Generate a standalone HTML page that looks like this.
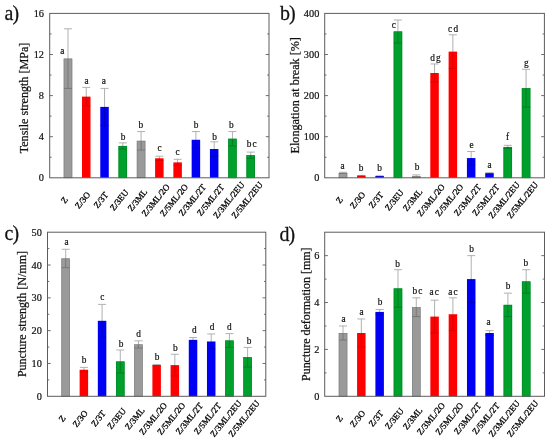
<!DOCTYPE html>
<html lang="en">
<head>
<meta charset="utf-8">
<title>Figure</title>
<style>
html,body{margin:0;padding:0;background:#fff;}
body{width:550px;height:443px;overflow:hidden;}
svg{display:block;filter:blur(0.35px);}
text{font-family:"Liberation Serif","Times New Roman",serif;fill:#111;}
.tk{font-size:10.3px;stroke:#111;stroke-width:0.2px;}
.xl{font-size:8.8px;fill:#000;stroke:#000;stroke-width:0.28px;}
.lt{font-size:9.3px;word-spacing:-1.1px;stroke:#111;stroke-width:0.2px;}
.yl{stroke:#111;stroke-width:0.22px;}
.tg{font-size:21px;fill:#111;letter-spacing:-1px;stroke:#111;stroke-width:0.25px;}
</style>
</head>
<body>
<svg width="550" height="443" viewBox="0 0 550 443">
<rect x="0" y="0" width="550" height="443" fill="#ffffff"/>
<g>
<rect x="63.73" y="58.61" width="8.5" height="119.19" fill="#9a9a9a"/>
<rect x="64.03" y="58.91" width="7.9" height="118.89" fill="none" stroke="#7d7d7d" stroke-width="0.6"/>
<rect x="82.00" y="96.63" width="8.5" height="81.17" fill="#ff0000"/>
<rect x="100.28" y="106.90" width="8.5" height="70.90" fill="#0000f5"/>
<rect x="118.55" y="145.95" width="8.5" height="31.85" fill="#00a02c"/>
<rect x="118.85" y="146.25" width="7.9" height="31.55" fill="none" stroke="#008524" stroke-width="0.6"/>
<rect x="136.83" y="140.81" width="8.5" height="36.99" fill="#9a9a9a"/>
<rect x="137.13" y="141.11" width="7.9" height="36.69" fill="none" stroke="#7d7d7d" stroke-width="0.6"/>
<rect x="155.10" y="158.28" width="8.5" height="19.52" fill="#ff0000"/>
<rect x="173.38" y="162.39" width="8.5" height="15.41" fill="#ff0000"/>
<rect x="191.65" y="139.78" width="8.5" height="38.02" fill="#0000f5"/>
<rect x="209.93" y="149.03" width="8.5" height="28.77" fill="#0000f5"/>
<rect x="228.20" y="138.75" width="8.5" height="39.05" fill="#00a02c"/>
<rect x="228.50" y="139.06" width="7.9" height="38.75" fill="none" stroke="#008524" stroke-width="0.6"/>
<rect x="246.48" y="155.19" width="8.5" height="22.61" fill="#00a02c"/>
<rect x="246.78" y="155.50" width="7.9" height="22.31" fill="none" stroke="#008524" stroke-width="0.6"/>
<path d="M67.98 28.81V58.61M63.98 28.81H71.98" fill="none" stroke="#a8a8a8" stroke-width="0.9"/>
<path d="M67.98 58.61V88.41M63.98 88.41H71.98" fill="none" stroke="#747474" stroke-width="0.9"/>
<path d="M86.25 87.38V96.63M82.25 87.38H90.25" fill="none" stroke="#a8a8a8" stroke-width="0.9"/>
<path d="M86.25 96.63V105.88M82.25 105.88H90.25" fill="none" stroke="#d80000" stroke-width="0.9"/>
<path d="M104.53 88.41V106.90M100.53 88.41H108.53" fill="none" stroke="#a8a8a8" stroke-width="0.9"/>
<path d="M104.53 106.90V125.40M100.53 125.40H108.53" fill="none" stroke="#0000c4" stroke-width="0.9"/>
<path d="M122.80 142.87V145.95M118.80 142.87H126.80" fill="none" stroke="#a8a8a8" stroke-width="0.9"/>
<path d="M122.80 145.95V149.03M118.80 149.03H126.80" fill="none" stroke="#007a22" stroke-width="0.9"/>
<path d="M141.08 131.56V140.81M137.08 131.56H145.08" fill="none" stroke="#a8a8a8" stroke-width="0.9"/>
<path d="M141.08 140.81V150.06M137.08 150.06H145.08" fill="none" stroke="#747474" stroke-width="0.9"/>
<path d="M159.35 156.22V158.28M155.35 156.22H163.35" fill="none" stroke="#a8a8a8" stroke-width="0.9"/>
<path d="M159.35 158.28V160.33M155.35 160.33H163.35" fill="none" stroke="#d80000" stroke-width="0.9"/>
<path d="M177.62 159.31V162.39M173.62 159.31H181.62" fill="none" stroke="#a8a8a8" stroke-width="0.9"/>
<path d="M177.62 162.39V165.47M173.62 165.47H181.62" fill="none" stroke="#d80000" stroke-width="0.9"/>
<path d="M195.90 131.56V139.78M191.90 131.56H199.90" fill="none" stroke="#a8a8a8" stroke-width="0.9"/>
<path d="M195.90 139.78V148.00M191.90 148.00H199.90" fill="none" stroke="#0000c4" stroke-width="0.9"/>
<path d="M214.18 141.84V149.03M210.18 141.84H218.18" fill="none" stroke="#a8a8a8" stroke-width="0.9"/>
<path d="M214.18 149.03V156.22M210.18 156.22H218.18" fill="none" stroke="#0000c4" stroke-width="0.9"/>
<path d="M232.45 131.56V138.75M228.45 131.56H236.45" fill="none" stroke="#a8a8a8" stroke-width="0.9"/>
<path d="M232.45 138.75V145.95M228.45 145.95H236.45" fill="none" stroke="#007a22" stroke-width="0.9"/>
<path d="M250.73 152.11V155.19M246.73 152.11H254.73" fill="none" stroke="#a8a8a8" stroke-width="0.9"/>
<path d="M250.73 155.19V158.28M246.73 158.28H254.73" fill="none" stroke="#007a22" stroke-width="0.9"/>
<rect x="49.7" y="13.4" width="219.30" height="164.40" fill="none" stroke="#5c5c5c" stroke-width="1"/>
<text x="44.0" y="181.30" text-anchor="end" class="tk">0</text>
<text x="44.0" y="140.20" text-anchor="end" class="tk">4</text>
<text x="44.0" y="99.10" text-anchor="end" class="tk">8</text>
<text x="44.0" y="58.00" text-anchor="end" class="tk">12</text>
<text x="44.0" y="16.90" text-anchor="end" class="tk">16</text>
<path d="M49.7 157.25h1.8M269.0 157.25h-1.8M49.7 136.70h3.2M269.0 136.70h-3.2M49.7 116.15h1.8M269.0 116.15h-1.8M49.7 95.60h3.2M269.0 95.60h-3.2M49.7 75.05h1.8M269.0 75.05h-1.8M49.7 54.50h3.2M269.0 54.50h-3.2M49.7 33.95h1.8M269.0 33.95h-1.8" fill="none" stroke="#5c5c5c" stroke-width="0.9"/>
<text transform="translate(64.28 200.10) rotate(-51)" text-anchor="middle" y="3" class="xl">Z</text>
<text transform="translate(82.55 200.10) rotate(-51)" text-anchor="middle" y="3" class="xl">Z/3O</text>
<text transform="translate(100.83 200.10) rotate(-51)" text-anchor="middle" y="3" class="xl">Z/3T</text>
<text transform="translate(119.10 200.10) rotate(-51)" text-anchor="middle" y="3" class="xl">Z/3EU</text>
<text transform="translate(137.38 200.10) rotate(-51)" text-anchor="middle" y="3" class="xl">Z/3ML</text>
<text transform="translate(155.65 200.10) rotate(-51)" text-anchor="middle" y="3" class="xl">Z/3ML/2O</text>
<text transform="translate(173.93 200.10) rotate(-51)" text-anchor="middle" y="3" class="xl">Z/5ML/2O</text>
<text transform="translate(192.20 200.10) rotate(-51)" text-anchor="middle" y="3" class="xl">Z/3ML/2T</text>
<text transform="translate(210.48 200.10) rotate(-51)" text-anchor="middle" y="3" class="xl">Z/5ML/2T</text>
<text transform="translate(228.75 200.10) rotate(-51)" text-anchor="middle" y="3" class="xl">Z/3ML/2EU</text>
<text transform="translate(247.03 200.10) rotate(-51)" text-anchor="middle" y="3" class="xl">Z/5ML/2EU</text>
<text x="62.2" y="53.9" text-anchor="middle" class="lt">a</text>
<text x="86.5" y="83.5" text-anchor="middle" class="lt">a</text>
<text x="103.8" y="83.5" text-anchor="middle" class="lt">a</text>
<text x="123.1" y="139.6" text-anchor="middle" class="lt">b</text>
<text x="140.8" y="127.6" text-anchor="middle" class="lt">b</text>
<text x="159.5" y="150.5" text-anchor="middle" class="lt">c</text>
<text x="177.6" y="155.3" text-anchor="middle" class="lt">c</text>
<text x="196" y="127.8" text-anchor="middle" class="lt">b</text>
<text x="214.5" y="139.7" text-anchor="middle" class="lt">b</text>
<text x="231.3" y="127.8" text-anchor="middle" class="lt">b</text>
<text x="251.7" y="146.8" text-anchor="middle" class="lt">b c</text>
<text transform="translate(28.3 98.0) rotate(-90)" text-anchor="middle" class="yl" font-size="12.1">Tensile strength [MPa]</text>
<text transform="translate(4.5 19.8) scale(0.95 1)" class="tg">a)</text>
</g>
<g>
<rect x="338.76" y="172.87" width="8.5" height="4.93" fill="#9a9a9a"/>
<rect x="339.06" y="173.17" width="7.9" height="4.63" fill="none" stroke="#7d7d7d" stroke-width="0.6"/>
<rect x="357.07" y="175.75" width="8.5" height="2.06" fill="#ff0000"/>
<rect x="375.38" y="176.16" width="8.5" height="1.64" fill="#0000f5"/>
<rect x="393.68" y="31.48" width="8.5" height="146.32" fill="#00a02c"/>
<rect x="393.98" y="31.78" width="7.9" height="146.02" fill="none" stroke="#008524" stroke-width="0.6"/>
<rect x="411.99" y="176.16" width="8.5" height="1.64" fill="#9a9a9a"/>
<rect x="412.29" y="176.46" width="7.9" height="1.34" fill="none" stroke="#7d7d7d" stroke-width="0.6"/>
<rect x="430.30" y="73.00" width="8.5" height="104.81" fill="#ff0000"/>
<rect x="448.61" y="51.62" width="8.5" height="126.18" fill="#ff0000"/>
<rect x="466.92" y="158.07" width="8.5" height="19.73" fill="#0000f5"/>
<rect x="485.23" y="173.28" width="8.5" height="4.52" fill="#0000f5"/>
<rect x="503.53" y="146.98" width="8.5" height="30.82" fill="#00a02c"/>
<rect x="503.83" y="147.28" width="7.9" height="30.52" fill="none" stroke="#008524" stroke-width="0.6"/>
<rect x="521.84" y="88.20" width="8.5" height="89.60" fill="#00a02c"/>
<rect x="522.14" y="88.50" width="7.9" height="89.30" fill="none" stroke="#008524" stroke-width="0.6"/>
<path d="M343.01 172.25V172.87M339.01 172.25H347.01" fill="none" stroke="#a8a8a8" stroke-width="0.9"/>
<path d="M343.01 172.87V173.48M339.01 173.48H347.01" fill="none" stroke="#747474" stroke-width="0.9"/>
<path d="M361.32 175.42V175.75M357.32 175.42H365.32" fill="none" stroke="#a8a8a8" stroke-width="0.9"/>
<path d="M361.32 175.75V176.07M357.32 176.07H365.32" fill="none" stroke="#d80000" stroke-width="0.9"/>
<path d="M379.62 175.83V176.16M375.62 175.83H383.62" fill="none" stroke="#a8a8a8" stroke-width="0.9"/>
<path d="M379.62 176.16V176.48M375.62 176.48H383.62" fill="none" stroke="#0000c4" stroke-width="0.9"/>
<path d="M397.93 19.98V31.48M393.93 19.98H401.93" fill="none" stroke="#a8a8a8" stroke-width="0.9"/>
<path d="M397.93 31.48V42.99M393.93 42.99H401.93" fill="none" stroke="#007a22" stroke-width="0.9"/>
<path d="M416.24 174.92V176.16M412.24 174.92H420.24" fill="none" stroke="#a8a8a8" stroke-width="0.9"/>
<path d="M416.24 176.16V177.39M412.24 177.39H420.24" fill="none" stroke="#747474" stroke-width="0.9"/>
<path d="M434.55 63.95V73.00M430.55 63.95H438.55" fill="none" stroke="#a8a8a8" stroke-width="0.9"/>
<path d="M434.55 73.00V82.04M430.55 82.04H438.55" fill="none" stroke="#d80000" stroke-width="0.9"/>
<path d="M452.86 34.77V51.62M448.86 34.77H456.86" fill="none" stroke="#a8a8a8" stroke-width="0.9"/>
<path d="M452.86 51.62V68.47M448.86 68.47H456.86" fill="none" stroke="#d80000" stroke-width="0.9"/>
<path d="M471.17 151.50V158.07M467.17 151.50H475.17" fill="none" stroke="#a8a8a8" stroke-width="0.9"/>
<path d="M471.17 158.07V164.65M467.17 164.65H475.17" fill="none" stroke="#0000c4" stroke-width="0.9"/>
<path d="M489.48 172.66V173.28M485.48 172.66H493.48" fill="none" stroke="#a8a8a8" stroke-width="0.9"/>
<path d="M489.48 173.28V173.90M485.48 173.90H493.48" fill="none" stroke="#0000c4" stroke-width="0.9"/>
<path d="M507.78 145.33V146.98M503.78 145.33H511.78" fill="none" stroke="#a8a8a8" stroke-width="0.9"/>
<path d="M507.78 146.98V148.62M503.78 148.62H511.78" fill="none" stroke="#007a22" stroke-width="0.9"/>
<path d="M526.09 69.30V88.20M522.09 69.30H530.09" fill="none" stroke="#a8a8a8" stroke-width="0.9"/>
<path d="M526.09 88.20V107.11M522.09 107.11H530.09" fill="none" stroke="#007a22" stroke-width="0.9"/>
<rect x="324.7" y="13.4" width="219.70" height="164.40" fill="none" stroke="#5c5c5c" stroke-width="1"/>
<text x="319.3" y="181.30" text-anchor="end" class="tk">0</text>
<text x="319.3" y="140.20" text-anchor="end" class="tk">100</text>
<text x="319.3" y="99.10" text-anchor="end" class="tk">200</text>
<text x="319.3" y="58.00" text-anchor="end" class="tk">300</text>
<text x="319.3" y="16.90" text-anchor="end" class="tk">400</text>
<path d="M324.7 157.25h1.8M544.4 157.25h-1.8M324.7 136.70h3.2M544.4 136.70h-3.2M324.7 116.15h1.8M544.4 116.15h-1.8M324.7 95.60h3.2M544.4 95.60h-3.2M324.7 75.05h1.8M544.4 75.05h-1.8M324.7 54.50h3.2M544.4 54.50h-3.2M324.7 33.95h1.8M544.4 33.95h-1.8" fill="none" stroke="#5c5c5c" stroke-width="0.9"/>
<text transform="translate(339.31 200.10) rotate(-51)" text-anchor="middle" y="3" class="xl">Z</text>
<text transform="translate(357.62 200.10) rotate(-51)" text-anchor="middle" y="3" class="xl">Z/3O</text>
<text transform="translate(375.93 200.10) rotate(-51)" text-anchor="middle" y="3" class="xl">Z/3T</text>
<text transform="translate(394.23 200.10) rotate(-51)" text-anchor="middle" y="3" class="xl">Z/3EU</text>
<text transform="translate(412.54 200.10) rotate(-51)" text-anchor="middle" y="3" class="xl">Z/3ML</text>
<text transform="translate(430.85 200.10) rotate(-51)" text-anchor="middle" y="3" class="xl">Z/3ML/2O</text>
<text transform="translate(449.16 200.10) rotate(-51)" text-anchor="middle" y="3" class="xl">Z/5ML/2O</text>
<text transform="translate(467.47 200.10) rotate(-51)" text-anchor="middle" y="3" class="xl">Z/3ML/2T</text>
<text transform="translate(485.78 200.10) rotate(-51)" text-anchor="middle" y="3" class="xl">Z/5ML/2T</text>
<text transform="translate(504.08 200.10) rotate(-51)" text-anchor="middle" y="3" class="xl">Z/3ML/2EU</text>
<text transform="translate(522.39 200.10) rotate(-51)" text-anchor="middle" y="3" class="xl">Z/5ML/2EU</text>
<text x="342.6" y="169" text-anchor="middle" class="lt">a</text>
<text x="361" y="170.6" text-anchor="middle" class="lt">b</text>
<text x="379.5" y="170.6" text-anchor="middle" class="lt">b</text>
<text x="393.7" y="28.4" text-anchor="middle" class="lt">c</text>
<text x="417" y="169.6" text-anchor="middle" class="lt">b</text>
<text x="435.4" y="60.5" text-anchor="middle" class="lt">d g</text>
<text x="453.1" y="31.5" text-anchor="middle" class="lt">c d</text>
<text x="471.5" y="147.7" text-anchor="middle" class="lt">e</text>
<text x="489.5" y="168.4" text-anchor="middle" class="lt">a</text>
<text x="507.5" y="139.9" text-anchor="middle" class="lt">f</text>
<text x="526.4" y="66.0" text-anchor="middle" class="lt">g</text>
<text transform="translate(298.6 95.3) rotate(-90)" text-anchor="middle" class="yl" font-size="12.15">Elongation at break [%]</text>
<text transform="translate(280.0 19.8) scale(0.95 1)" class="tg">b)</text>
</g>
<g>
<rect x="61.44" y="258.46" width="8.5" height="137.84" fill="#9a9a9a"/>
<rect x="61.74" y="258.76" width="7.9" height="137.54" fill="none" stroke="#7d7d7d" stroke-width="0.6"/>
<rect x="79.63" y="369.72" width="8.5" height="26.58" fill="#ff0000"/>
<rect x="97.83" y="320.81" width="8.5" height="75.49" fill="#0000f5"/>
<rect x="116.02" y="361.51" width="8.5" height="34.79" fill="#00a02c"/>
<rect x="116.32" y="361.81" width="7.9" height="34.49" fill="none" stroke="#008524" stroke-width="0.6"/>
<rect x="134.21" y="344.44" width="8.5" height="51.86" fill="#9a9a9a"/>
<rect x="134.51" y="344.74" width="7.9" height="51.56" fill="none" stroke="#7d7d7d" stroke-width="0.6"/>
<rect x="152.40" y="365.12" width="8.5" height="31.18" fill="#ff0000"/>
<rect x="170.59" y="365.12" width="8.5" height="31.18" fill="#ff0000"/>
<rect x="188.78" y="339.85" width="8.5" height="56.45" fill="#0000f5"/>
<rect x="206.97" y="341.49" width="8.5" height="54.81" fill="#0000f5"/>
<rect x="225.17" y="340.51" width="8.5" height="55.79" fill="#00a02c"/>
<rect x="225.47" y="340.81" width="7.9" height="55.49" fill="none" stroke="#008524" stroke-width="0.6"/>
<rect x="243.36" y="357.24" width="8.5" height="39.06" fill="#00a02c"/>
<rect x="243.66" y="357.54" width="7.9" height="38.76" fill="none" stroke="#008524" stroke-width="0.6"/>
<path d="M65.69 249.27V258.46M61.69 249.27H69.69" fill="none" stroke="#a8a8a8" stroke-width="0.9"/>
<path d="M65.69 258.46V267.65M61.69 267.65H69.69" fill="none" stroke="#747474" stroke-width="0.9"/>
<path d="M83.88 367.42V369.72M79.88 367.42H87.88" fill="none" stroke="#a8a8a8" stroke-width="0.9"/>
<path d="M83.88 369.72V372.01M79.88 372.01H87.88" fill="none" stroke="#d80000" stroke-width="0.9"/>
<path d="M102.08 304.40V320.81M98.08 304.40H106.08" fill="none" stroke="#a8a8a8" stroke-width="0.9"/>
<path d="M102.08 320.81V337.22M98.08 337.22H106.08" fill="none" stroke="#0000c4" stroke-width="0.9"/>
<path d="M120.27 350.02V361.51M116.27 350.02H124.27" fill="none" stroke="#a8a8a8" stroke-width="0.9"/>
<path d="M120.27 361.51V373.00M116.27 373.00H124.27" fill="none" stroke="#007a22" stroke-width="0.9"/>
<path d="M138.46 340.83V344.44M134.46 340.83H142.46" fill="none" stroke="#a8a8a8" stroke-width="0.9"/>
<path d="M138.46 344.44V348.05M134.46 348.05H142.46" fill="none" stroke="#747474" stroke-width="0.9"/>
<path d="M156.65 364.46V365.12M152.65 364.46H160.65" fill="none" stroke="#a8a8a8" stroke-width="0.9"/>
<path d="M156.65 365.12V365.78M152.65 365.78H160.65" fill="none" stroke="#d80000" stroke-width="0.9"/>
<path d="M174.84 354.29V365.12M170.84 354.29H178.84" fill="none" stroke="#a8a8a8" stroke-width="0.9"/>
<path d="M174.84 365.12V375.95M170.84 375.95H178.84" fill="none" stroke="#d80000" stroke-width="0.9"/>
<path d="M193.03 337.55V339.85M189.03 337.55H197.03" fill="none" stroke="#a8a8a8" stroke-width="0.9"/>
<path d="M193.03 339.85V342.15M189.03 342.15H197.03" fill="none" stroke="#0000c4" stroke-width="0.9"/>
<path d="M211.22 333.94V341.49M207.22 333.94H215.22" fill="none" stroke="#a8a8a8" stroke-width="0.9"/>
<path d="M211.22 341.49V349.04M207.22 349.04H215.22" fill="none" stroke="#0000c4" stroke-width="0.9"/>
<path d="M229.42 333.61V340.51M225.42 333.61H233.42" fill="none" stroke="#a8a8a8" stroke-width="0.9"/>
<path d="M229.42 340.51V347.40M225.42 347.40H233.42" fill="none" stroke="#007a22" stroke-width="0.9"/>
<path d="M247.61 347.40V357.24M243.61 347.40H251.61" fill="none" stroke="#a8a8a8" stroke-width="0.9"/>
<path d="M247.61 357.24V367.09M243.61 367.09H251.61" fill="none" stroke="#007a22" stroke-width="0.9"/>
<rect x="47.5" y="232.2" width="218.30" height="164.10" fill="none" stroke="#5c5c5c" stroke-width="1"/>
<text x="41.8" y="399.80" text-anchor="end" class="tk">0</text>
<text x="41.8" y="366.98" text-anchor="end" class="tk">10</text>
<text x="41.8" y="334.16" text-anchor="end" class="tk">20</text>
<text x="41.8" y="301.34" text-anchor="end" class="tk">30</text>
<text x="41.8" y="268.52" text-anchor="end" class="tk">40</text>
<text x="41.8" y="235.70" text-anchor="end" class="tk">50</text>
<path d="M47.5 379.89h1.8M265.8 379.89h-1.8M47.5 363.48h3.2M265.8 363.48h-3.2M47.5 347.07h1.8M265.8 347.07h-1.8M47.5 330.66h3.2M265.8 330.66h-3.2M47.5 314.25h1.8M265.8 314.25h-1.8M47.5 297.84h3.2M265.8 297.84h-3.2M47.5 281.43h1.8M265.8 281.43h-1.8M47.5 265.02h3.2M265.8 265.02h-3.2M47.5 248.61h1.8M265.8 248.61h-1.8" fill="none" stroke="#5c5c5c" stroke-width="0.9"/>
<text transform="translate(61.99 418.60) rotate(-51)" text-anchor="middle" y="3" class="xl">Z</text>
<text transform="translate(80.18 418.60) rotate(-51)" text-anchor="middle" y="3" class="xl">Z/3O</text>
<text transform="translate(98.38 418.60) rotate(-51)" text-anchor="middle" y="3" class="xl">Z/3T</text>
<text transform="translate(116.57 418.60) rotate(-51)" text-anchor="middle" y="3" class="xl">Z/3EU</text>
<text transform="translate(134.76 418.60) rotate(-51)" text-anchor="middle" y="3" class="xl">Z/3ML</text>
<text transform="translate(152.95 418.60) rotate(-51)" text-anchor="middle" y="3" class="xl">Z/3ML/2O</text>
<text transform="translate(171.14 418.60) rotate(-51)" text-anchor="middle" y="3" class="xl">Z/5ML/2O</text>
<text transform="translate(189.33 418.60) rotate(-51)" text-anchor="middle" y="3" class="xl">Z/3ML/2T</text>
<text transform="translate(207.53 418.60) rotate(-51)" text-anchor="middle" y="3" class="xl">Z/5ML/2T</text>
<text transform="translate(225.72 418.60) rotate(-51)" text-anchor="middle" y="3" class="xl">Z/3ML/2EU</text>
<text transform="translate(243.91 418.60) rotate(-51)" text-anchor="middle" y="3" class="xl">Z/5ML/2EU</text>
<text x="66.6" y="244.7" text-anchor="middle" class="lt">a</text>
<text x="84" y="363" text-anchor="middle" class="lt">b</text>
<text x="102.4" y="300.1" text-anchor="middle" class="lt">c</text>
<text x="121" y="347" text-anchor="middle" class="lt">b</text>
<text x="138.6" y="337" text-anchor="middle" class="lt">d</text>
<text x="157" y="359.6" text-anchor="middle" class="lt">b</text>
<text x="175.4" y="351" text-anchor="middle" class="lt">b</text>
<text x="194.4" y="333" text-anchor="middle" class="lt">d</text>
<text x="212" y="329.6" text-anchor="middle" class="lt">d</text>
<text x="229.4" y="329.6" text-anchor="middle" class="lt">d</text>
<text x="249" y="344" text-anchor="middle" class="lt">b</text>
<text transform="translate(26.3 314.0) rotate(-90)" text-anchor="middle" class="yl" font-size="12.03">Puncture strength [N/mm]</text>
<text transform="translate(4.5 240.2) scale(0.95 1)" class="tg">c)</text>
</g>
<g>
<rect x="338.77" y="333.00" width="8.5" height="63.30" fill="#9a9a9a"/>
<rect x="339.07" y="333.30" width="7.9" height="63.00" fill="none" stroke="#7d7d7d" stroke-width="0.6"/>
<rect x="357.08" y="333.00" width="8.5" height="63.30" fill="#ff0000"/>
<rect x="375.40" y="311.91" width="8.5" height="84.39" fill="#0000f5"/>
<rect x="393.72" y="288.46" width="8.5" height="107.84" fill="#00a02c"/>
<rect x="394.02" y="288.76" width="7.9" height="107.54" fill="none" stroke="#008524" stroke-width="0.6"/>
<rect x="412.03" y="307.22" width="8.5" height="89.08" fill="#9a9a9a"/>
<rect x="412.33" y="307.52" width="7.9" height="88.78" fill="none" stroke="#7d7d7d" stroke-width="0.6"/>
<rect x="430.35" y="316.59" width="8.5" height="79.71" fill="#ff0000"/>
<rect x="448.67" y="314.25" width="8.5" height="82.05" fill="#ff0000"/>
<rect x="466.98" y="279.09" width="8.5" height="117.21" fill="#0000f5"/>
<rect x="485.30" y="333.00" width="8.5" height="63.30" fill="#0000f5"/>
<rect x="503.62" y="304.87" width="8.5" height="91.43" fill="#00a02c"/>
<rect x="503.92" y="305.17" width="7.9" height="91.13" fill="none" stroke="#008524" stroke-width="0.6"/>
<rect x="521.93" y="281.43" width="8.5" height="114.87" fill="#00a02c"/>
<rect x="522.23" y="281.73" width="7.9" height="114.57" fill="none" stroke="#008524" stroke-width="0.6"/>
<path d="M343.02 325.97V333.00M339.02 325.97H347.02" fill="none" stroke="#a8a8a8" stroke-width="0.9"/>
<path d="M343.02 333.00V340.04M339.02 340.04H347.02" fill="none" stroke="#747474" stroke-width="0.9"/>
<path d="M361.33 318.94V333.00M357.33 318.94H365.33" fill="none" stroke="#a8a8a8" stroke-width="0.9"/>
<path d="M361.33 333.00V347.07M357.33 347.07H365.33" fill="none" stroke="#d80000" stroke-width="0.9"/>
<path d="M379.65 309.56V311.91M375.65 309.56H383.65" fill="none" stroke="#a8a8a8" stroke-width="0.9"/>
<path d="M379.65 311.91V314.25M375.65 314.25H383.65" fill="none" stroke="#0000c4" stroke-width="0.9"/>
<path d="M397.97 269.71V288.46M393.97 269.71H401.97" fill="none" stroke="#a8a8a8" stroke-width="0.9"/>
<path d="M397.97 288.46V307.22M393.97 307.22H401.97" fill="none" stroke="#007a22" stroke-width="0.9"/>
<path d="M416.28 297.84V307.22M412.28 297.84H420.28" fill="none" stroke="#a8a8a8" stroke-width="0.9"/>
<path d="M416.28 307.22V316.59M412.28 316.59H420.28" fill="none" stroke="#747474" stroke-width="0.9"/>
<path d="M434.60 300.18V316.59M430.60 300.18H438.60" fill="none" stroke="#a8a8a8" stroke-width="0.9"/>
<path d="M434.60 316.59V333.00M430.60 333.00H438.60" fill="none" stroke="#d80000" stroke-width="0.9"/>
<path d="M452.92 297.84V314.25M448.92 297.84H456.92" fill="none" stroke="#a8a8a8" stroke-width="0.9"/>
<path d="M452.92 314.25V330.66M448.92 330.66H456.92" fill="none" stroke="#d80000" stroke-width="0.9"/>
<path d="M471.23 255.64V279.09M467.23 255.64H475.23" fill="none" stroke="#a8a8a8" stroke-width="0.9"/>
<path d="M471.23 279.09V302.53M467.23 302.53H475.23" fill="none" stroke="#0000c4" stroke-width="0.9"/>
<path d="M489.55 330.66V333.00M485.55 330.66H493.55" fill="none" stroke="#a8a8a8" stroke-width="0.9"/>
<path d="M489.55 333.00V335.35M485.55 335.35H493.55" fill="none" stroke="#0000c4" stroke-width="0.9"/>
<path d="M507.87 293.15V304.87M503.87 293.15H511.87" fill="none" stroke="#a8a8a8" stroke-width="0.9"/>
<path d="M507.87 304.87V316.59M503.87 316.59H511.87" fill="none" stroke="#007a22" stroke-width="0.9"/>
<path d="M526.18 269.71V281.43M522.18 269.71H530.18" fill="none" stroke="#a8a8a8" stroke-width="0.9"/>
<path d="M526.18 281.43V293.15M522.18 293.15H530.18" fill="none" stroke="#007a22" stroke-width="0.9"/>
<rect x="324.7" y="232.2" width="219.80" height="164.10" fill="none" stroke="#5c5c5c" stroke-width="1"/>
<text x="319.4" y="399.80" text-anchor="end" class="tk">0</text>
<text x="319.4" y="352.91" text-anchor="end" class="tk">2</text>
<text x="319.4" y="306.03" text-anchor="end" class="tk">4</text>
<text x="319.4" y="259.14" text-anchor="end" class="tk">6</text>
<path d="M324.7 372.86h1.8M544.5 372.86h-1.8M324.7 349.41h3.2M544.5 349.41h-3.2M324.7 325.97h1.8M544.5 325.97h-1.8M324.7 302.53h3.2M544.5 302.53h-3.2M324.7 279.09h1.8M544.5 279.09h-1.8M324.7 255.64h3.2M544.5 255.64h-3.2" fill="none" stroke="#5c5c5c" stroke-width="0.9"/>
<text transform="translate(339.32 418.60) rotate(-51)" text-anchor="middle" y="3" class="xl">Z</text>
<text transform="translate(357.63 418.60) rotate(-51)" text-anchor="middle" y="3" class="xl">Z/3O</text>
<text transform="translate(375.95 418.60) rotate(-51)" text-anchor="middle" y="3" class="xl">Z/3T</text>
<text transform="translate(394.27 418.60) rotate(-51)" text-anchor="middle" y="3" class="xl">Z/3EU</text>
<text transform="translate(412.58 418.60) rotate(-51)" text-anchor="middle" y="3" class="xl">Z/3ML</text>
<text transform="translate(430.90 418.60) rotate(-51)" text-anchor="middle" y="3" class="xl">Z/3ML/2O</text>
<text transform="translate(449.22 418.60) rotate(-51)" text-anchor="middle" y="3" class="xl">Z/5ML/2O</text>
<text transform="translate(467.53 418.60) rotate(-51)" text-anchor="middle" y="3" class="xl">Z/3ML/2T</text>
<text transform="translate(485.85 418.60) rotate(-51)" text-anchor="middle" y="3" class="xl">Z/5ML/2T</text>
<text transform="translate(504.17 418.60) rotate(-51)" text-anchor="middle" y="3" class="xl">Z/3ML/2EU</text>
<text transform="translate(522.48 418.60) rotate(-51)" text-anchor="middle" y="3" class="xl">Z/5ML/2EU</text>
<text x="343.6" y="322" text-anchor="middle" class="lt">a</text>
<text x="361.6" y="315" text-anchor="middle" class="lt">a</text>
<text x="380" y="305" text-anchor="middle" class="lt">b</text>
<text x="397.7" y="267" text-anchor="middle" class="lt">b</text>
<text x="417.4" y="294" text-anchor="middle" class="lt">b c</text>
<text x="434.2" y="294.9" text-anchor="middle" class="lt">a c</text>
<text x="452.9" y="294.9" text-anchor="middle" class="lt">a c</text>
<text x="471.5" y="251.6" text-anchor="middle" class="lt">b</text>
<text x="488.5" y="324.9" text-anchor="middle" class="lt">a</text>
<text x="508.2" y="289" text-anchor="middle" class="lt">b</text>
<text x="525.9" y="266.3" text-anchor="middle" class="lt">b</text>
<text transform="translate(310.1 314.2) rotate(-90)" text-anchor="middle" class="yl" font-size="11.97">Puncture deformation [mm]</text>
<text transform="translate(279.5 241.1) scale(0.95 1)" class="tg">d)</text>
</g>
</svg>
</body>
</html>
